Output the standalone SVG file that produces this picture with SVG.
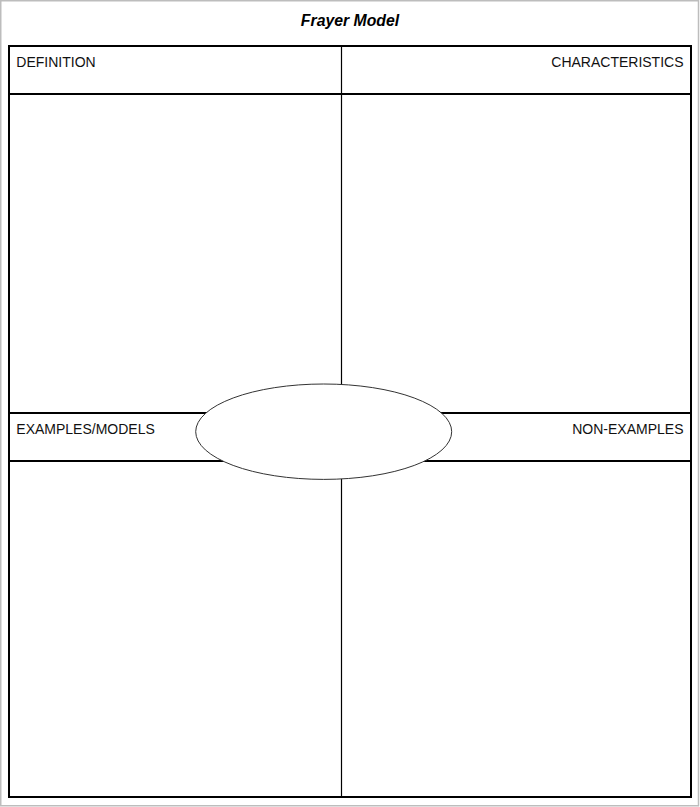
<svg xmlns="http://www.w3.org/2000/svg" width="700" height="807" viewBox="0 0 700 807">
<style>
.lbl{font-family:"Liberation Sans",Arial,sans-serif;font-size:14px;fill:#111}
.title{font-family:"Liberation Sans",Arial,sans-serif;font-size:15.8px;font-weight:bold;font-style:italic;fill:#000}
.thick{stroke:#000;stroke-width:2;fill:none}
.thin{stroke:#000;stroke-width:1.2;fill:none}
</style>
<rect x="0" y="0" width="700" height="807" fill="#fff"/>
<rect x="0.75" y="0.75" width="697.75" height="805" fill="none" stroke="#bdbdbd" stroke-width="1.5"/>
<g id="title"><text class="title" x="350" y="25.5" text-anchor="middle">Frayer Model</text></g>
<g id="connectors">
<rect class="thick" x="9" y="46" width="682" height="751"/>
<line class="thick" x1="9" y1="94" x2="691" y2="94"/>
<line class="thick" x1="9" y1="413" x2="691" y2="413"/>
<line class="thick" x1="9" y1="461" x2="691" y2="461"/>
<line class="thin" x1="341.5" y1="46" x2="341.5" y2="797"/>
</g>
<g id="definition"><text class="lbl" x="16.3" y="67">DEFINITION</text></g>
<g id="characteristics"><text class="lbl" x="683.5" y="67" text-anchor="end">CHARACTERISTICS</text></g>
<g id="examples"><text class="lbl" x="16.3" y="434">EXAMPLES/MODELS</text></g>
<g id="non-examples"><text class="lbl" x="683.5" y="434" text-anchor="end">NON-EXAMPLES</text></g>
<g id="center"><ellipse cx="323.7" cy="431.7" rx="128" ry="47.7" fill="#fff" stroke="#333" stroke-width="1"/></g>
</svg>
